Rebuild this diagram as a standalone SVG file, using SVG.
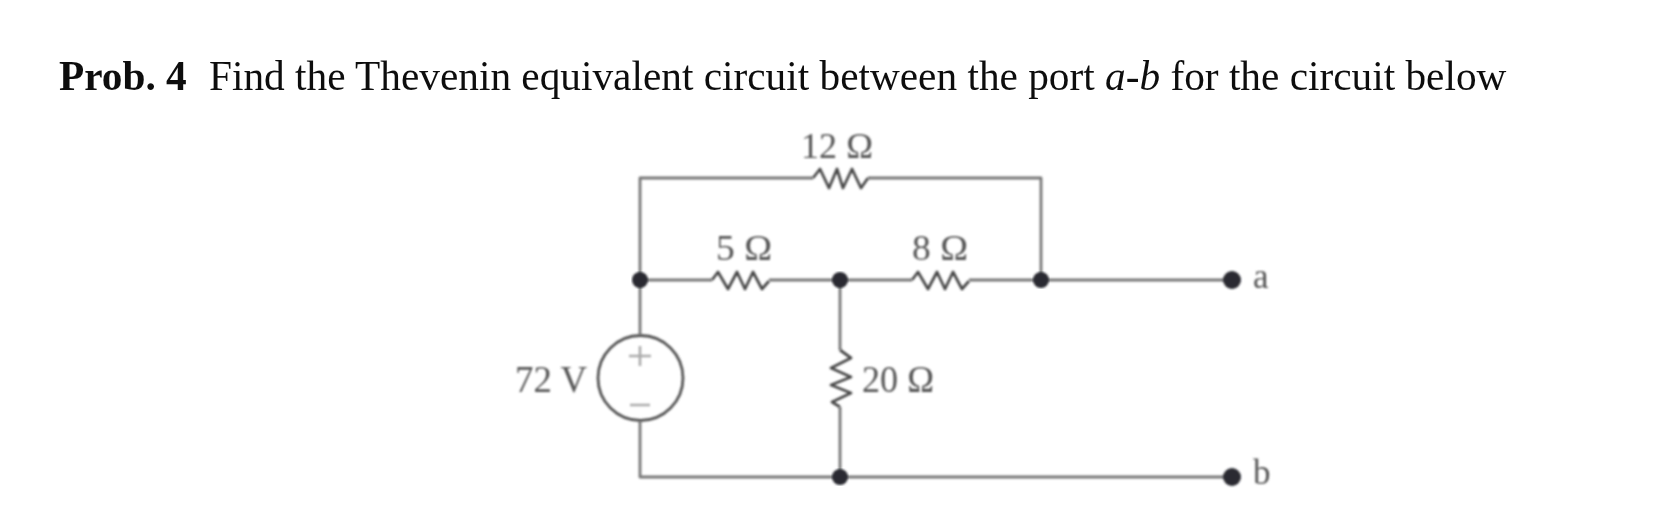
<svg xmlns="http://www.w3.org/2000/svg" width="1671" height="515" viewBox="0 0 1671 515">
<style>
text{font-family:"Liberation Serif","Times New Roman",serif}
.t{font-size:41.3px;fill:#111}
.l{font-size:35px;fill:#555}
.m{font-size:38px;fill:#555}
.w{fill:none;stroke:#777;stroke-width:2.8;stroke-linejoin:round}
.r{fill:none;stroke:#4a4a4a;stroke-width:2.8;stroke-linejoin:round}
.d{fill:#2a2c33}
</style>
<defs>
<filter id="b" x="-5%" y="-5%" width="110%" height="110%"><feGaussianBlur stdDeviation="0.8"/></filter>
<filter id="s" x="-5%" y="-20%" width="110%" height="140%"><feGaussianBlur stdDeviation="0.45"/></filter>
</defs>
<rect width="1671" height="515" fill="#fff"/>
<g id="title" filter="url(#s)">
<text class="t" x="59" y="90" font-weight="bold" word-spacing="0">Prob. 4</text>
<text class="t" x="209" y="90">Find the Thevenin equivalent circuit between the port <tspan font-style="italic">a-b</tspan> for the circuit below</text>
</g>
<g id="connectors" filter="url(#b)">
<path class="w" d="M640 280V178H813M868 178H1041V280"/>
<path class="w" d="M640 280H712M769 280H912M969 280H1232"/>
<path class="w" d="M640 280V335M640 421V477H1232"/>
<path class="w" d="M840 280V350M840 407V477"/>
</g>
<g id="r12" filter="url(#b)">
<path class="r" d="M813 178L820 169L829 188L837 169L843 188L852 169L861 188L868 178"/>
<text class="l" x="801" y="158" textLength="72" lengthAdjust="spacingAndGlyphs">12 Ω</text>
</g>
<g id="r5" filter="url(#b)">
<path class="r" d="M712 280L718 272L728 289L737 272L745 289L753 272L762 289L769 281"/>
<text class="l" x="716" y="260" textLength="56" lengthAdjust="spacingAndGlyphs">5 Ω</text>
</g>
<g id="r8" filter="url(#b)">
<path class="r" d="M912 280L918 272L928 289L937 272L945 289L953 272L962 289L969 281"/>
<text class="l" x="912" y="260" textLength="56" lengthAdjust="spacingAndGlyphs">8 Ω</text>
</g>
<g id="r20" filter="url(#b)">
<path class="r" d="M840 350L851 358L831 368L851 377L831 385L851 393L832 402L840 407"/>
<text class="m" x="862" y="392" textLength="72" lengthAdjust="spacingAndGlyphs">20 Ω</text>
</g>
<g id="source" filter="url(#b)">
<circle cx="640.5" cy="378" r="42.5" fill="none" stroke="#555" stroke-width="2.8"/>
<path d="M629 356H651M640 346V366M630 405H650" fill="none" stroke="#aaa" stroke-width="2.6"/>
<text class="m" x="515" y="392" textLength="72" lengthAdjust="spacingAndGlyphs">72 V</text>
</g>
<g id="n1" filter="url(#b)"><circle class="d" cx="640" cy="280" r="8"/></g>
<g id="n2" filter="url(#b)"><circle class="d" cx="840" cy="280" r="8"/></g>
<g id="n3" filter="url(#b)"><circle class="d" cx="1041" cy="280" r="8"/></g>
<g id="n4" filter="url(#b)"><circle class="d" cx="840" cy="477" r="8"/></g>
<g id="ta" filter="url(#b)"><circle class="d" cx="1232" cy="280" r="9"/><text class="l" x="1253" y="288">a</text></g>
<g id="tb" filter="url(#b)"><circle class="d" cx="1232" cy="477" r="9"/><text class="l" x="1253" y="484">b</text></g>
</svg>
